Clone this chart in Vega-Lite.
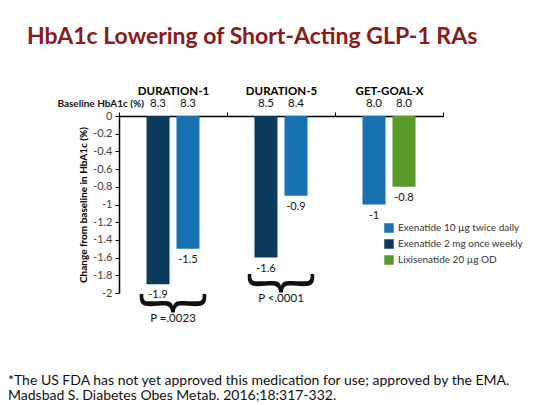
{
  "$schema": "https://vega.github.io/schema/vega-lite/v6.json",
  "width": 324,
  "height": 177,
  "autosize": "none",
  "padding": {"left": 119, "top": 116, "right": 97, "bottom": 112},
  "background": "white",
  "config": {"font": "Lato", "view": {"stroke": null}},
  "title": {
    "text": "HbA1c Lowering of Short-Acting GLP-1 RAs",
    "anchor": "start",
    "frame": "group",
    "dx": -92,
    "offset": 36,
    "font": "Lato",
    "fontSize": 23,
    "fontWeight": "bold",
    "color": "#8B1A1A"
  },
  "data": {
    "values": [
      {"study": "DURATION-1", "treatment": "Exenatide 2 mg once weekly", "pos": 1, "change": -1.9, "baseline": "8.3"},
      {"study": "DURATION-1", "treatment": "Exenatide 10 µg twice daily", "pos": 2, "change": -1.5, "baseline": "8.3"},
      {"study": "DURATION-5", "treatment": "Exenatide 2 mg once weekly", "pos": 1, "change": -1.6, "baseline": "8.5"},
      {"study": "DURATION-5", "treatment": "Exenatide 10 µg twice daily", "pos": 2, "change": -0.9, "baseline": "8.4"},
      {"study": "GET-GOAL-X", "treatment": "Exenatide 10 µg twice daily", "pos": 1, "change": -1, "baseline": "8.0"},
      {"study": "GET-GOAL-X", "treatment": "Lixisenatide 20 µg OD", "pos": 2, "change": -0.8, "baseline": "8.0"}
    ]
  },
  "encoding": {
    "x": {
      "field": "study",
      "type": "nominal",
      "sort": ["DURATION-1", "DURATION-5", "GET-GOAL-X"],
      "scale": {"paddingInner": 0, "paddingOuter": 0},
      "axis": {
        "orient": "top",
        "title": null,
        "labelAngle": 0,
        "tickBand": "extent",
        "tickSize": 4,
        "tickColor": "#000",
        "domainColor": "#000",
        "domainWidth": 1.5,
        "labelPadding": 16,
        "labelFontSize": 11.5,
        "labelFontWeight": "bold",
        "labelColor": "#000"
      }
    }
  },
  "layer": [
    {
      "mark": {"type": "bar"},
      "encoding": {
        "xOffset": {"field": "pos", "type": "nominal", "scale": {"paddingInner": 0.233, "paddingOuter": 0.917}},
        "y": {
          "field": "change",
          "type": "quantitative",
          "scale": {"domain": [-2, 0], "nice": false},
          "axis": {
            "title": "Change from baseline in HbA1c (%)",
            "titleFontSize": 10,
            "titleFontWeight": "bold",
            "titleColor": "#000",
            "titlePadding": 4,
            "grid": false,
            "tickCount": 10,
            "labelExpr": "'' + datum.value",
            "labelFontSize": 11,
            "labelColor": "#404040",
            "labelPadding": 3,
            "tickSize": 4,
            "tickColor": "#000",
            "domainColor": "#000",
            "domainWidth": 1.5
          }
        },
        "color": {
          "field": "treatment",
          "type": "nominal",
          "scale": {
            "domain": ["Exenatide 10 µg twice daily", "Exenatide 2 mg once weekly", "Lixisenatide 20 µg OD"],
            "range": ["#1872B2", "#0B3A5B", "#5A9A2A"]
          },
          "legend": {
            "orient": "none",
            "legendX": 265,
            "legendY": 107,
            "title": null,
            "symbolType": "square",
            "symbolSize": 90,
            "symbolStrokeWidth": 0,
            "labelFontSize": 10,
            "labelOffset": 4,
            "labelColor": "#333",
            "rowPadding": 6
          }
        }
      }
    },
    {
      "mark": {"type": "text", "baseline": "top", "dy": 5, "fontSize": 11, "color": "#111"},
      "encoding": {
        "xOffset": {"field": "pos", "type": "nominal"},
        "y": {"field": "change", "type": "quantitative"},
        "text": {"field": "change", "type": "nominal"}
      }
    },
    {
      "mark": {"type": "text", "baseline": "middle", "dy": -12, "fontSize": 11.5, "color": "#111"},
      "encoding": {
        "xOffset": {"field": "pos", "type": "nominal"},
        "y": {"datum": 0, "type": "quantitative"},
        "text": {"field": "baseline", "type": "nominal"}
      }
    },
    {
      "data": {"values": [{"study": "DURATION-1", "label": "Baseline HbA1c (%)"}]},
      "mark": {"type": "text", "align": "right", "baseline": "middle", "dx": -29, "dy": -12, "fontSize": 10, "fontWeight": "bold", "color": "#111"},
      "encoding": {
        "y": {"datum": 0, "type": "quantitative"},
        "text": {"field": "label", "type": "nominal"}
      }
    },
    {
      "data": {
        "values": [
          {"study": "DURATION-1", "level": -1.9, "p": "P =.0023"},
          {"study": "DURATION-5", "level": -1.6, "p": "P <.0001"}
        ]
      },
      "layer": [
        {
          "transform": [{"filter": "datum.study == 'DURATION-1'"}],
          "mark": {"type": "text", "text": "︸", "font": "Noto Sans CJK SC", "fontSize": 70, "baseline": "middle", "dy": 49, "color": "#111"},
          "encoding": {"y": {"field": "level", "type": "quantitative"}}
        },
        {
          "transform": [{"filter": "datum.study == 'DURATION-5'"}],
          "mark": {"type": "text", "text": "︸", "font": "Noto Sans CJK SC", "fontSize": 70, "baseline": "middle", "dy": 55, "color": "#111"},
          "encoding": {"y": {"field": "level", "type": "quantitative"}}
        },
        {
          "transform": [{"filter": "datum.study == 'DURATION-1'"}],
          "mark": {"type": "text", "baseline": "middle", "dy": 35, "fontSize": 11.5, "color": "#111"},
          "encoding": {
            "y": {"field": "level", "type": "quantitative"},
            "text": {"field": "p", "type": "nominal"}
          }
        },
        {
          "transform": [{"filter": "datum.study == 'DURATION-5'"}],
          "mark": {"type": "text", "baseline": "middle", "dy": 41, "fontSize": 11.5, "color": "#111"},
          "encoding": {
            "y": {"field": "level", "type": "quantitative"},
            "text": {"field": "p", "type": "nominal"}
          }
        }
      ]
    },
    {
      "data": {"values": [{"study": "DURATION-1", "note": "*The US FDA has not yet approved this medication for use; approved by the EMA.\nMadsbad S. Diabetes Obes Metab. 2016;18:317-332."}]},
      "mark": {"type": "text", "align": "left", "baseline": "middle", "lineBreak": "\n", "lineHeight": 14.5, "dx": -165, "dy": 88, "fontSize": 14, "color": "#111"},
      "encoding": {
        "y": {"datum": -2, "type": "quantitative"},
        "text": {"field": "note", "type": "nominal"}
      }
    }
  ]
}
